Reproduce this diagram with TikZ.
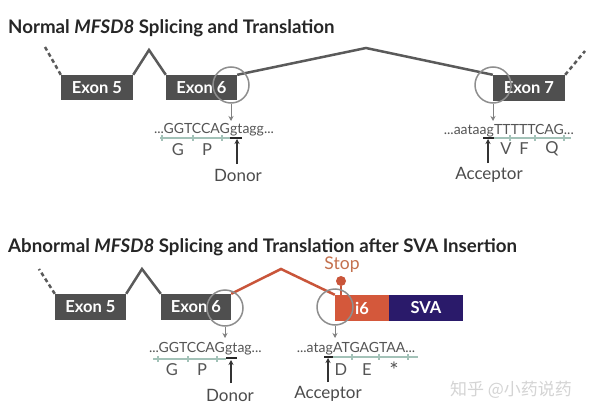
\documentclass[tikz,border=0pt]{standalone}
\usepackage{fontspec}
\setmainfont{Lato}
\newfontfamily\cjk{Noto Sans CJK SC}
\usetikzlibrary{arrows.meta}
\definecolor{exongray}{HTML}{4F4F4F}
\definecolor{linegray}{HTML}{5A5A5A}
\definecolor{circgray}{HTML}{8E8E8E}
\definecolor{seqgray}{HTML}{555555}
\definecolor{codon}{HTML}{A3C2B8}
\definecolor{redline}{HTML}{C9553A}
\definecolor{i6red}{HTML}{D4583B}
\definecolor{stopc}{HTML}{C4714E}
\definecolor{svablue}{HTML}{2A1A6A}
\definecolor{wm}{HTML}{D4D4D4}
\tikzset{
  titletext/.style={anchor=base west,inner sep=0pt,font=\fontsize{18.7}{18.7}\selectfont\bfseries,text=black!85},
  exonbox/.style={fill=exongray,text=white,inner sep=0pt,minimum height=25pt,font=\fontsize{16.5}{16.5}\selectfont\bfseries},
  intron/.style={draw=linegray,line width=2.5pt,line join=miter},
  redintron/.style={draw=redline,line width=2.5pt},
  dashend/.style={draw=linegray,line width=2.5pt,dash pattern=on 4pt off 3pt},
  zoomcirc/.style={circle,draw=circgray,line width=1.5pt,minimum size=36pt,inner sep=0pt},
  garrow/.style={draw=circgray!90!black,line width=1pt,-{Stealth[length=5pt,width=5pt]}},
  karrow/.style={draw=black!80,line width=1.5pt,-{Stealth[length=5pt,width=5pt]}},
  seqL/.style={anchor=base east,inner sep=0pt,text=seqgray,font=\fontsize{14}{14}\selectfont},
  seqR/.style={anchor=base west,inner sep=0pt,text=seqgray,font=\fontsize{14}{14}\selectfont},
  codonline/.style={draw=codon,line width=1.5pt},
  ulin/.style={draw=black!85,line width=1.5pt},
  aa/.style={inner sep=0pt,text=seqgray,font=\fontsize{16.5}{16.5}\selectfont},
  sitelabel/.style={inner sep=0pt,text=seqgray!90!black,font=\fontsize{17}{17}\selectfont},
}
\begin{document}
\begin{tikzpicture}[x=1pt,y=-1pt]
\useasboundingbox[fill=white] (0,0) rectangle (589,415);
% ===== Top =====
\node[titletext] (t1) at (8,33) {Normal \textit{MFSD8} Splicing and Translation};
\node[exonbox,minimum width=72pt] (e5) at (97,87.5) {Exon 5};
\node[exonbox,minimum width=71pt] (e6) at (201.5,87.5) {Exon 6};
\node[exonbox,minimum width=72pt,minimum height=26pt] (e7) at (529,88) {Exon 7};
\coordinate (d1) at (45,47);
\coordinate (d2) at (585,51);
\coordinate (p1) at (149,50);
\coordinate (p2) at (366,48);
\draw[dashend] (e5.north west) -- (d1);
\draw[dashend] (e7.north east) -- (d2);
\draw[intron] (e5.north east) -- (p1) -- (e6.north west);
\draw[intron] (e6.north east) -- (p2) -- (e7.north west);
\node[zoomcirc] (c6) at (231,85) {};
\node[zoomcirc] (c7) at (493,85) {};
% donor seq
\node[seqL] (s6a) at (230,133) {...GGTCCAG};
\node[seqR] (s6b) at (230,133) {gtagg...};
\draw[garrow] (c6.south) -- (231,121);
\draw[codonline] (160,138) -- (230,138);
\foreach \x in {162,193,222} \draw[codonline] (\x,135) -- (\x,141);
\draw[ulin] (230,138) -- (242,138);
\node[aa] (g1) at (178,150) {G};
\node[aa] (p1t) at (207,150) {P};
\coordinate (dn1) at (237,164);
\draw[karrow] (dn1) -- (237,139);
\node[sitelabel] (don1) at (238,175) {Donor};
% acceptor seq
\node[seqL] (s7a) at (494,134) {...aataag};
\node[seqR] (s7b) at (494,134) {TTTTTCAG...};
\draw[garrow] (c7.south) -- (493,121);
\draw[ulin] (483,138) -- (494,138);
\draw[codonline] (494,138) -- (571,138);
\foreach \x in {510,535,564} \draw[codonline] (\x,135) -- (\x,141);
\node[aa] (v1) at (506,149) {V};
\node[aa] (f1) at (524,149) {F};
\node[aa] (q1) at (552,149) {Q};
\coordinate (ac1) at (488,163);
\draw[karrow] (ac1) -- (488,139);
\node[sitelabel] (acc1) at (489,175) {Acceptor};
% ===== Bottom =====
\node[titletext] (t2) at (8,252) {Abnormal \textit{MFSD8} Splicing and Translation after SVA Insertion};
\node[exonbox,minimum width=71pt,minimum height=26pt] (b5) at (90.5,307) {Exon 5};
\node[exonbox,minimum width=70pt,minimum height=26pt] (b6) at (196,307) {Exon 6};
\node[exonbox,fill=i6red,minimum width=54pt,minimum height=26pt] (i6) at (362,308) {i6};
\node[exonbox,fill=svablue,minimum width=74pt,minimum height=26pt] (sva) at (426,308) {SVA};
\coordinate (d3) at (39,269);
\coordinate (p3) at (142,269);
\coordinate (p4) at (281,269);
\draw[dashend] (b5.north west) -- (d3);
\draw[intron] (b5.north east) -- (p3) -- (b6.north west);
\draw[redintron] (b6.north east) -- (p4) -- (i6.north west);
\node[circle,fill=redline,minimum size=10pt,inner sep=0pt] (stopdot) at (341,281) {};
\draw[draw=redline,line width=1.5pt] (stopdot.south) -- (stopdot.south |- i6.north);
\node[inner sep=0pt,text=stopc,font=\fontsize{17.5}{17.5}\selectfont] (stop) at (342,265) {Stop};
\node[zoomcirc] (cb6) at (225,308) {};
\node[zoomcirc] (ci6) at (335,307) {};
% donor seq bottom
\node[seqL] (s8a) at (225,352) {...GGTCCAG};
\node[seqR] (s8b) at (225,352) {gtag...};
\draw[garrow] (cb6.south) -- (225,338);
\draw[codonline] (153,359) -- (226,359);
\foreach \x in {158,188,217} \draw[codonline] (\x,356) -- (\x,362);
\draw[ulin] (226,358) -- (237,358);
\node[aa] (g2) at (172,370) {G};
\node[aa] (p2t) at (202,370) {P};
\coordinate (dn2) at (231,383);
\draw[karrow] (dn2) -- (231,360);
\node[sitelabel] (don2) at (230,395) {Donor};
% acceptor seq bottom
\node[seqL] (s9a) at (333,352) {...atag};
\node[seqR] (s9b) at (333,352) {ATGAGTAA...};
\draw[garrow] (ci6.south) -- (335,338);
\draw[ulin] (324,357) -- (333,357);
\draw[codonline] (333,357) -- (418,357);
\foreach \x in {352,379,408} \draw[codonline] (\x,354) -- (\x,360);
\node[aa] (dd) at (341,370) {D};
\node[aa] (ee) at (367,370) {E};
\node[aa,font=\fontsize{22}{22}\selectfont] (st) at (394,370) {*};
\coordinate (ac2) at (328,382);
\draw[karrow] (ac2) -- (328,358);
\node[sitelabel] (acc2) at (328,394) {Acceptor};
% watermark
\node[inner sep=0pt,text=wm,font=\cjk\fontsize{17}{17}\selectfont] (wmk) at (511,390) {知乎 @小药说药};
\end{tikzpicture}
\end{document}
